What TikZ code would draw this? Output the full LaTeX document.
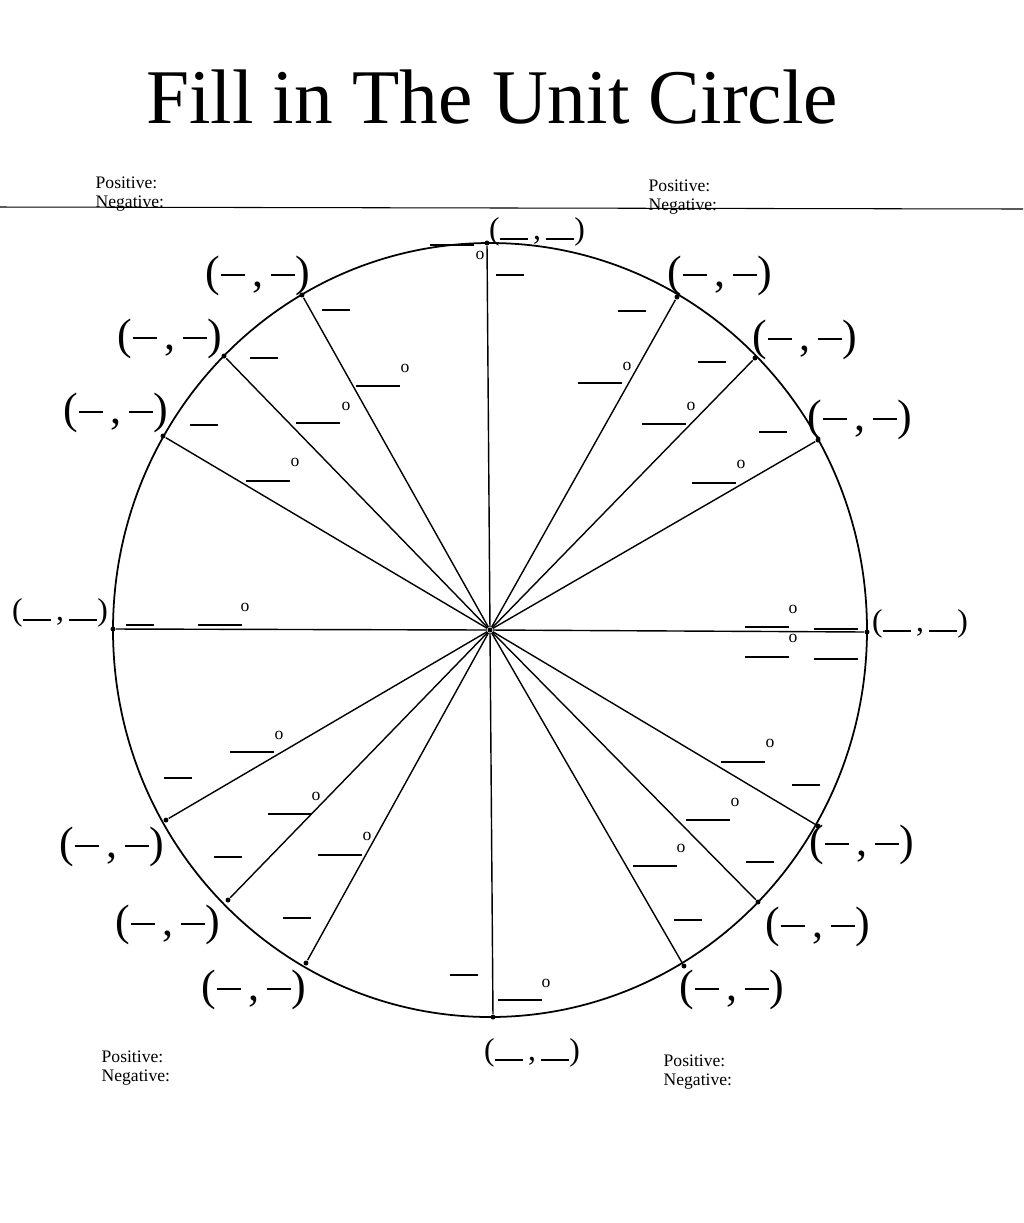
\documentclass[tikz,border=0pt]{standalone}
\usepackage{fontspec}
\setmainfont{Liberation Serif}
\newcommand{\bigcp}{\fontsize{12.5}{13}\selectfont(\raisebox{0.25em}{\rule{7pt}{0.5pt}}\,,\,\raisebox{0.25em}{\rule{7pt}{0.5pt}})}
\newcommand{\smcp}{\fontsize{9}{9}\selectfont(\rule{8pt}{0.5pt}\,,\,\rule{8pt}{0.5pt})}
\begin{document}
\begin{tikzpicture}[x=0.01cm,y=-0.01cm,
  pt/.style={circle,fill,inner sep=0.5pt},
  lbl/.style={font=\fontsize{5}{5.5}\selectfont,align=left,anchor=west,inner sep=0},
  deg/.style={font=\fontsize{5}{5}\selectfont,inner sep=0},
  blank/.style={line width=0.5pt}]
\useasboundingbox (0,0) rectangle (1023,1223);
\node (title) at (492,97) {\fontsize{22}{22}\selectfont Fill in The Unit Circle};
\draw[line width=0.3pt] (0,207) -- (1023,209);
\node[lbl] (p1) at (95,194) {Positive:\\Negative:};
\node[lbl] (p2) at (648,197) {Positive:\\Negative:};
\node[lbl] (p3) at (101,1068) {Positive:\\Negative:};
\node[lbl] (p4) at (663,1072) {Positive:\\Negative:};
\node[pt] (c) at (490,630) {};
\draw[line width=0.5pt] (c) ellipse [x radius=377, y radius=387];
\foreach \n/\x/\y in {a0/867/632,a30/818/440,a45/755/358,a60/677/297,a90/487/243,a120/302/295,a135/224/356,a150/163/436,a180/113/629,a210/166/820,a225/228/900,a240/306/963,a270/493/1017,a300/684/966,a315/758/902,a330/818/826}
  {\node[pt] (\n) at (\x,\y) {}; \draw[line width=0.4pt] (c) -- (\n);}
% coordinate labels
\node (l90) at (537,232) {\smcp};
\node (l0) at (920,624) {\smcp};
\node (l180) at (60,613) {\smcp};
\node (l270) at (532,1053) {\smcp};
\foreach \n/\x/\y in {l120/258/276,l135/170/339,l150/116/413,l30/860/420,l45/805/340,l60/720/276,l210/112/847,l225/168/925,l240/254/990,l300/732/990,l315/818/927,l330/862/845}
  \node (\n) at (\x,\y) {\bigcp};
% short blanks
\foreach \x/\y in {336/310,264/358,204/425,140/625,773/432,712/362,632/311,178/778,228/857,297/918,464/975,688/920,760/862,806/785,510/275}
  \draw[blank] (\x-14,\y) -- (\x+14,\y);
% long blanks with degree marks
\foreach \x/\y/\ox/\oy in {452/245/480/255,378/386/405/368,318/423/346/406,268/481/295/462,220/625/245/607,767/627/793/609,767/657/793/638,714/483/741/464,664/424/691/406,600/383/627/366,252/752/279/735,290/814/316/796,340/855/367/836,520/1000/546/983,655/866/681/848,708/820/735/802,743/762/770/743}
  {\draw[blank] (\x-22,\y) -- (\x+22,\y); \node[deg] at (\ox,\oy) {o};}
\draw[blank] (814,629) -- (858,629);
\draw[blank] (814,659) -- (858,659);
\end{tikzpicture}
\end{document}
